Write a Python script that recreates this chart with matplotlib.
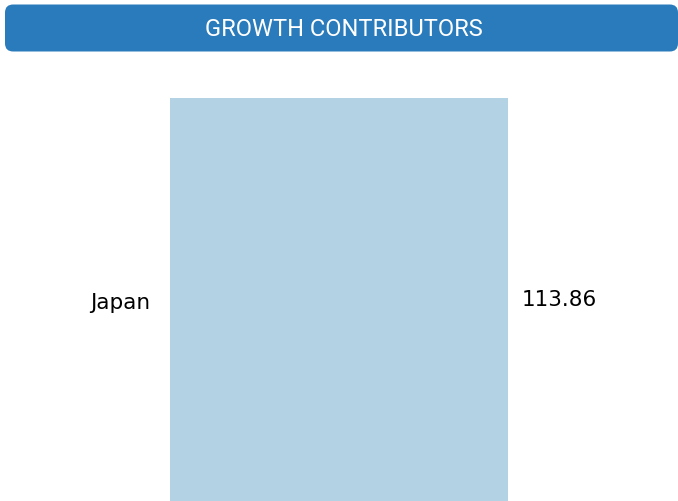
import matplotlib.pyplot as plt
from matplotlib.patches import FancyBboxPatch

countries = ["Japan"]
values = [113.86]
title = "GROWTH CONTRIBUTORS"

W, H = 678, 502
plt.rcParams["font.family"] = "DejaVu Sans"
fig = plt.figure(figsize=(W / 100, H / 100), dpi=100)

# title banner
banner = FancyBboxPatch((5 / W, 1 - 52.5 / H), 673 / W, 47 / H,
                        boxstyle="round,pad=0,rounding_size=0.012",
                        transform=fig.transFigure, facecolor="#2a7bbb",
                        edgecolor="none", mutation_aspect=W / H)
fig.patches.append(banner)
fig.text(344 / W, 1 - 30 / H, title, color="white", family="Roboto",
         fontsize=17, ha="center", va="center")

# bar area
ax = fig.add_axes([170 / W, -2 / H, (508 - 170) / W, (H - 98.5 + 2) / H])
ax.barh(countries, values, height=1, color="#b3d3e5")
ax.set_xlim(0, max(values))
ax.set_ylim(-0.5, 0.5)
for s in ax.spines.values():
    s.set_visible(False)
ax.set_xticks([])
ax.tick_params(axis="y", length=0, pad=14, labelsize=15.5)
for y, v in zip(countries, values):
    ax.annotate(f"{v:.2f}", (v, y), xytext=(10, 1.2), textcoords="offset points",
                va="center", ha="left", fontsize=15.5)

fig.savefig("out.png", dpi=100)
